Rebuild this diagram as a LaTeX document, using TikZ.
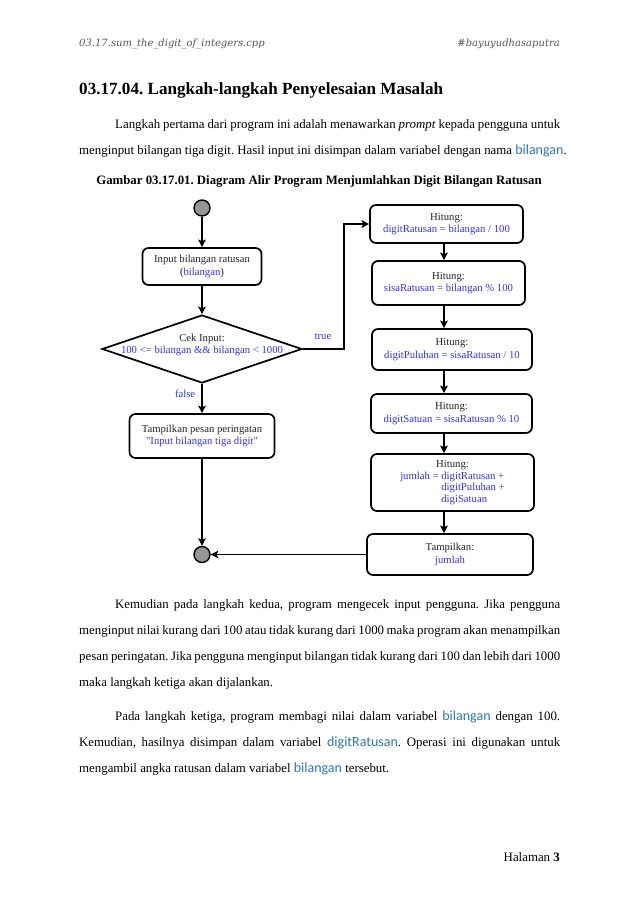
\documentclass[tikz,border=0pt]{standalone}
\usepackage{fontspec}
\setmainfont{Liberation Serif}
\newfontfamily\calibfont{Carlito}
\newfontfamily\hdrfont{DejaVu Serif}
\usetikzlibrary{shapes.geometric,arrows.meta}
\definecolor{codeblue}{RGB}{50,50,235}
\definecolor{linkblue}{RGB}{46,117,182}
\definecolor{hdrgray}{RGB}{85,85,85}
\definecolor{circgray}{RGB}{150,150,150}
\definecolor{txtdark}{RGB}{35,35,35}
\newcommand\varname[1]{{\calibfont\color{linkblue}\fontsize{14pt}{14pt}\selectfont #1}}
\newcommand\cb[1]{\textcolor{codeblue}{#1}}
\frenchspacing
\begin{document}
\begin{tikzpicture}[x=1pt,y=-1pt,
  bodytxt/.style={anchor=base west, inner sep=0pt, text=black, font=\fontsize{12.86pt}{15pt}\selectfont},
  hdr/.style={anchor=base west, inner sep=0pt, text=hdrgray, font=\hdrfont\itshape\fontsize{10pt}{11pt}\selectfont},
  fbox/.style={draw, line width=1.7pt, rounded corners=6pt, inner sep=0pt, align=center, text=txtdark,
     font=\fontsize{10.7pt}{12.5pt}\selectfont},
  dot/.style={circle, draw, line width=1.4pt, fill=circgray, minimum size=16pt, inner sep=0pt},
  arr/.style={-{Stealth[length=7.5pt,width=7.5pt,inset=1.5pt]}, line width=1.6pt},
  lbl/.style={inner sep=0pt, text=codeblue, font=\fontsize{10.7pt}{12pt}\selectfont}]
\useasboundingbox (0,0) rectangle (638,902);

% header
\node[hdr] (hl) at (79,46) {03.17.sum\_the\_digit\_of\_integers.cpp};
\node[hdr, anchor=base east] (hr) at (560,46) {\#bayuyudhasaputra};

% title
\node[bodytxt, font=\bfseries\fontsize{17.1pt}{20pt}\selectfont] (title) at (79,94) {03.17.04. Langkah-langkah Penyelesaian Masalah};

% paragraph 1
\node[bodytxt] (p1a) at (115,128) {\makebox[445pt][s]{Langkah pertama dari program ini adalah menawarkan \emph{prompt} kepada pengguna untuk}};
\node[bodytxt] (p1b) at (79,154) {menginput bilangan tiga digit. Hasil input ini disimpan dalam variabel dengan nama \varname{bilangan}.};

% caption
\node[inner sep=0pt, anchor=base, font=\bfseries\fontsize{12.8pt}{14pt}\selectfont] (cap) at (319,184) {Gambar 03.17.01. Diagram Alir Program Menjumlahkan Digit Bilangan Ratusan};

% flowchart left column
\node[dot] (start) at (202,208) {};
\node[fbox, minimum width=119pt, minimum height=37pt] (inp) at (202,266.5) {Input bilangan ratusan\\(\cb{bilangan})};
\node[diamond, draw, line width=1.7pt, minimum width=200pt, minimum height=68pt, inner sep=0pt] (dec) at (202,349) {};
\node[inner sep=0pt, align=center, text=txtdark, font=\fontsize{10.7pt}{12pt}\selectfont] (dect) at (202,345) {Cek Input:\\\cb{100 <= bilangan \&\& bilangan < 1000}};
\node[fbox, minimum width=145pt, minimum height=44pt] (warn) at (202,436) {Tampilkan pesan peringatan\\\cb{\textquotedbl Input bilangan tiga digit\textquotedbl}};
\node[dot] (end) at (202,554.5) {};

% right column
\node[fbox, minimum width=153pt, minimum height=38pt] (h1) at (446.5,224) {Hitung:\\\cb{digitRatusan = bilangan / 100}};
\node[fbox, minimum width=153pt, minimum height=44pt] (h2) at (448.5,283) {Hitung:\\\cb{sisaRatusan = bilangan \% 100}};
\node[fbox, minimum width=160pt, minimum height=41pt] (h3) at (452,349.5) {Hitung:\\\cb{digitPuluhan = sisaRatusan / 10}};
\node[fbox, minimum width=161pt, minimum height=39pt] (h4) at (451.5,413.5) {Hitung:\\\cb{digitSatuan = sisaRatusan \% 10}};
\node[fbox, minimum width=163pt, minimum height=57pt] (h5) at (452.5,482.5) {\fontsize{10.7pt}{11.5pt}\selectfont\begin{tabular}{@{}r@{}l@{}}\multicolumn{2}{c}{Hitung:}\\\cb{jumlah =\ }&\cb{digitRatusan +}\\&\cb{digitPuluhan +}\\&\cb{digiSatuan}\end{tabular}};
\node[fbox, minimum width=166pt, minimum height=41pt] (h6) at (450,554.5) {Tampilkan:\\\cb{jumlah}};
\coordinate (ax) at (444,0);

% connectors
\draw[arr] (start) -- (inp);
\draw[arr] (inp) -- (dec);
\draw[arr] (dec.south) -- (warn.north) node[lbl, pos=0.35, left=6pt] (flab) {false};
\draw[arr] (warn) -- (end);
\draw[arr] (dec.east) -- ++(41,0) coordinate (tc) |- (h1.west);
\node[lbl] (tlab) at (323,337) {true};
\draw[arr] (h1.south -| ax) -- (h2.north -| ax);
\draw[arr] (h2.south -| ax) -- (h3.north -| ax);
\draw[arr] (h3.south -| ax) -- (h4.north -| ax);
\draw[arr] (h4.south -| ax) -- (h5.north -| ax);
\draw[arr] (h5.south -| ax) -- (h6.north -| ax);
\draw[arr] (h6.west) -- (end.east);

% paragraph 2
\node[bodytxt] (p2a) at (115,608) {\makebox[445pt][s]{Kemudian pada langkah kedua, program mengecek input pengguna. Jika pengguna}};
\node[bodytxt] (p2b) at (79,634) {\makebox[481pt][s]{menginput nilai kurang dari 100 atau tidak kurang dari 1000 maka program akan menampilkan}};
\node[bodytxt] (p2c) at (79,660) {\makebox[481pt][s]{pesan peringatan. Jika pengguna menginput bilangan tidak kurang dari 100 dan lebih dari 1000}};
\node[bodytxt] (p2d) at (79,686) {maka langkah ketiga akan dijalankan.};

% paragraph 3
\node[bodytxt] (p3a) at (115,720) {\makebox[445pt][s]{Pada langkah ketiga, program membagi nilai dalam variabel \varname{bilangan} dengan 100.}};
\node[bodytxt] (p3b) at (79,746) {\makebox[481pt][s]{Kemudian, hasilnya disimpan dalam variabel \varname{digitRatusan}. Operasi ini digunakan untuk}};
\node[bodytxt] (p3c) at (79,772) {mengambil angka ratusan dalam variabel \varname{bilangan} tersebut.};

% footer
\node[bodytxt, anchor=base east] (foot) at (560,861) {Halaman \textbf{3}};
\end{tikzpicture}
\end{document}
